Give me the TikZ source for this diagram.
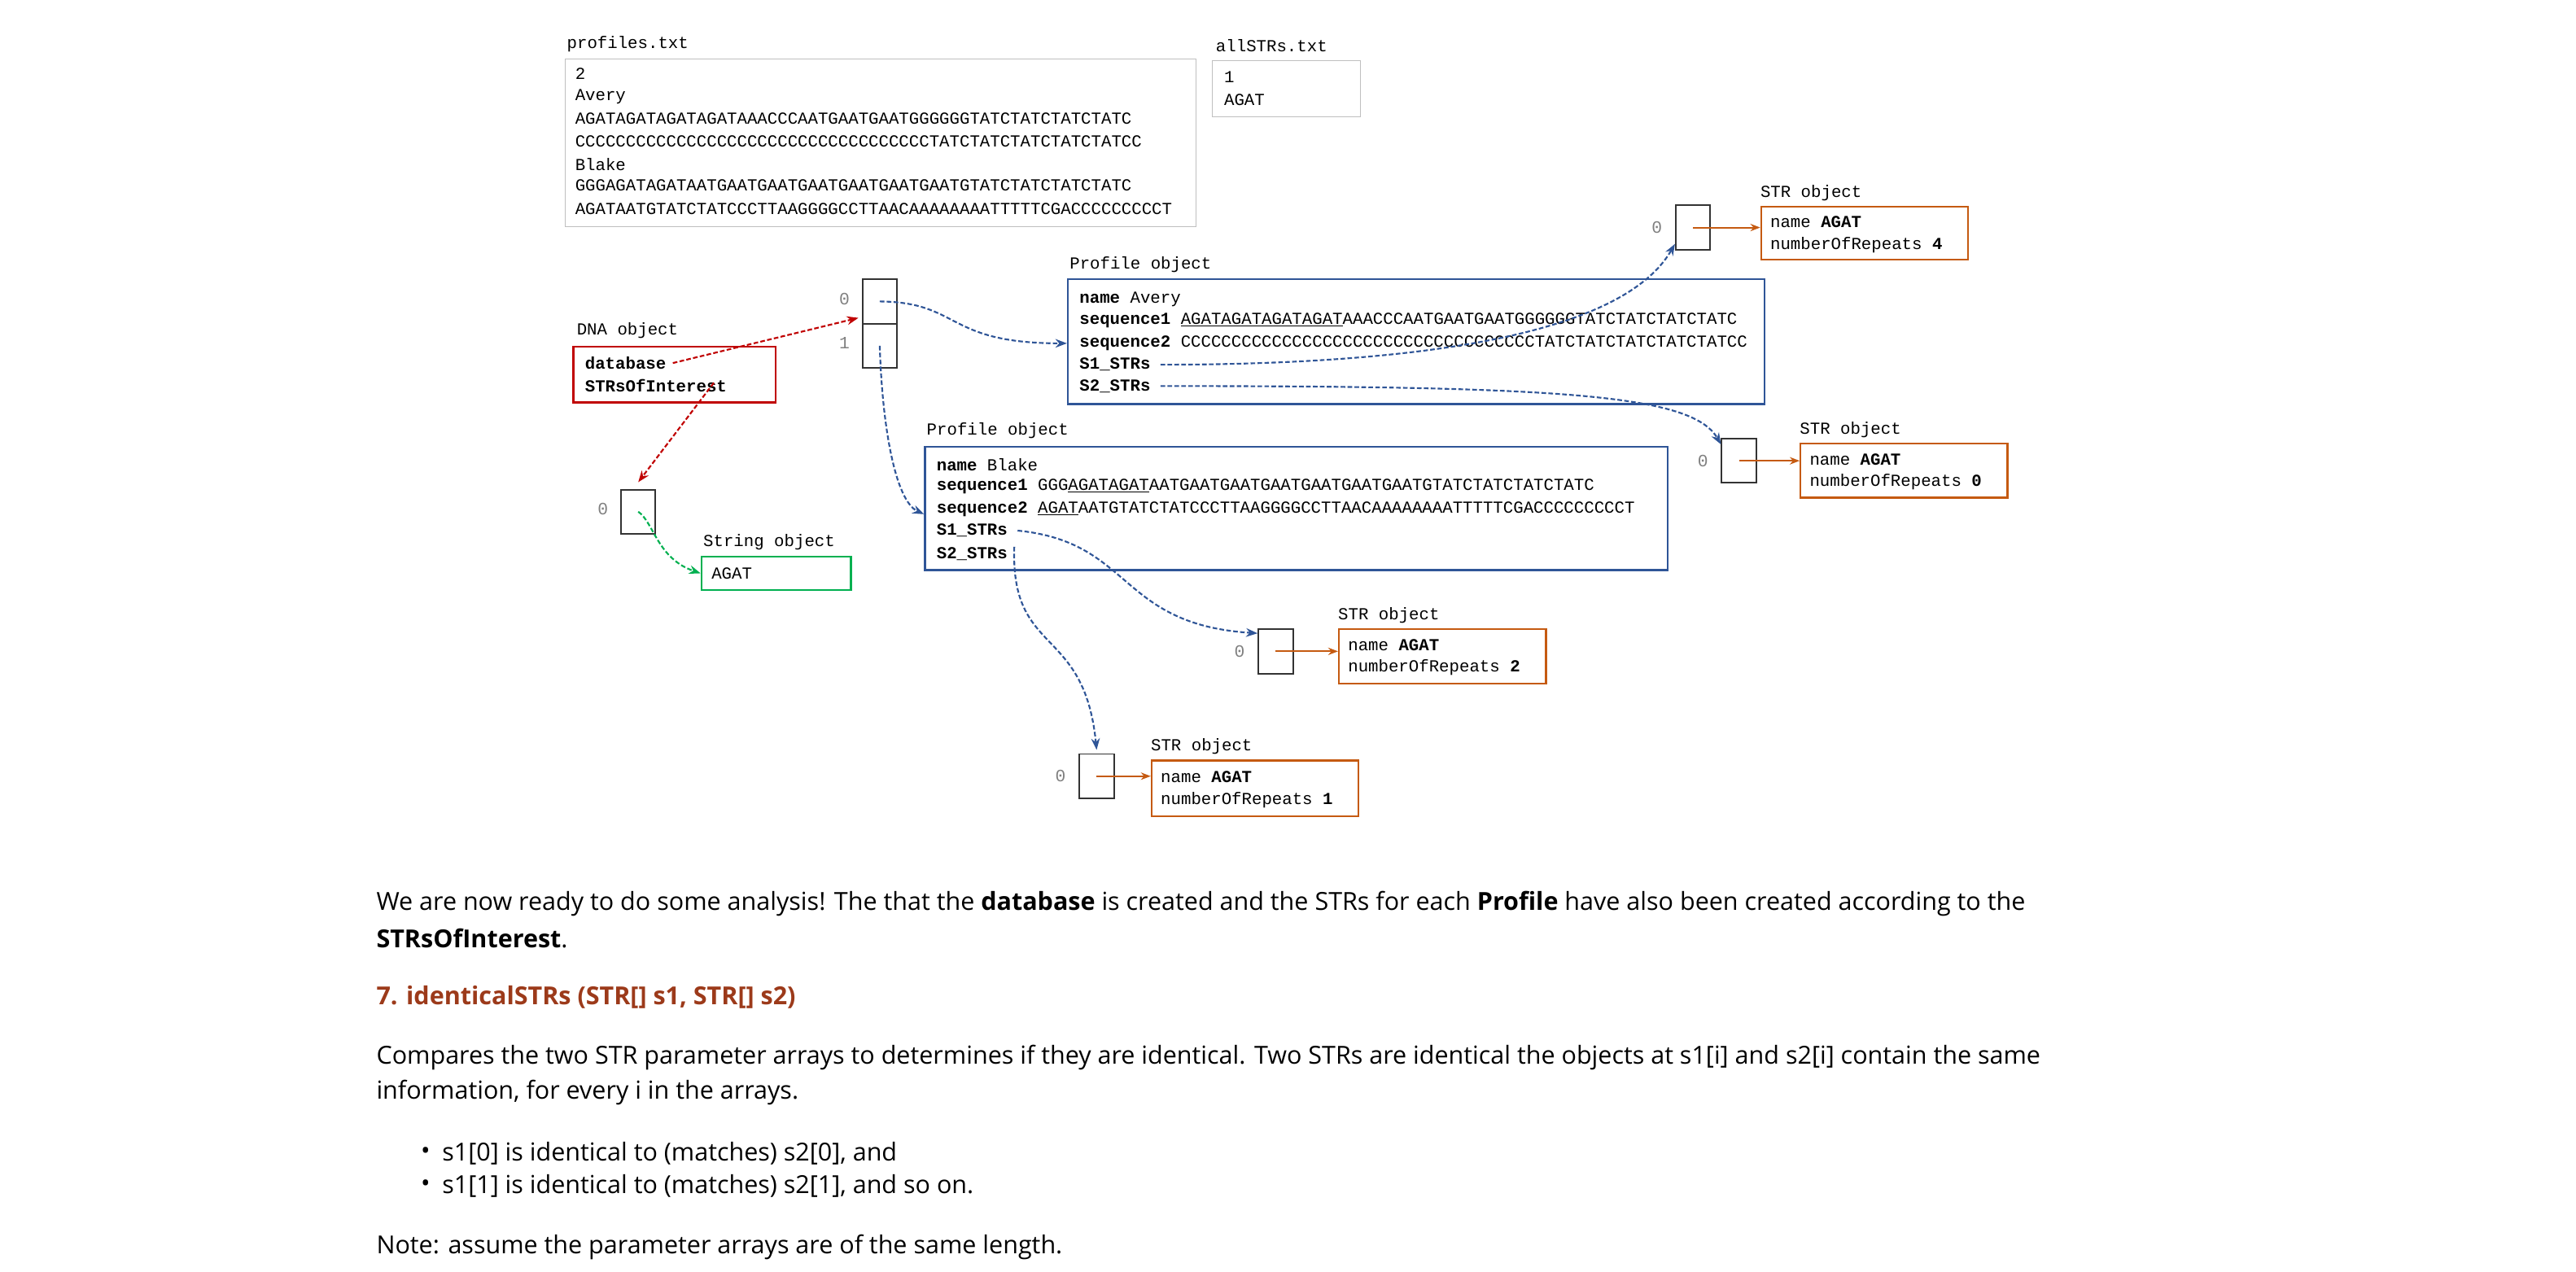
\documentclass[tikz,border=0pt]{standalone}
\usepackage{fontspec}
\setmainfont{Open Sans}
\newfontfamily\cmono{Liberation Mono}
\usetikzlibrary{arrows.meta}
\definecolor{cred}{HTML}{C00000}
\definecolor{cblue}{HTML}{2F5597}
\definecolor{corange}{HTML}{C55A11}
\definecolor{cgreen}{HTML}{00B050}
\definecolor{cgray}{HTML}{BFBFBF}
\definecolor{chead}{HTML}{9C3A1A}
\tikzset{
  x=0.5mm, y=-0.5mm,
  mono/.style={anchor=west, inner sep=0, font=\cmono\fontsize{14.6}{16}\selectfont},
  lbl/.style={mono},
  idx/.style={anchor=center, inner sep=0, text=gray, font=\cmono\fontsize{15}{16}\selectfont},
  box/.style={draw, line width=1.6pt, inner sep=0},
  cell/.style={draw=black!80, line width=1.4pt, minimum width=10.5mm, minimum height=13.5mm, inner sep=0},
  ptr/.style={dash pattern=on 4pt off 2pt, line width=1.5pt, -{Stealth[length=3.5mm]}},
  sans/.style={anchor=west, inner sep=0, font=\fontsize{21.5}{24}\selectfont},
}
\begin{document}
\begin{tikzpicture}
\useasboundingbox (0,0) rectangle (1568,774);
% text files
\node[lbl] at (345,27) {profiles.txt};
\node[box, draw=cgray, line width=1pt, minimum width=192mm, minimum height=51mm] (prof) at (536,87) {};
\node[mono] at (350,45) {2};
\node[mono] at (350,59) {Avery};
\node[mono] at (350,72) {AGATAGATAGATAGATAAACCCAATGAATGAATGGGGGGTATCTATCTATCTATC};
\node[mono] at (350,86) {CCCCCCCCCCCCCCCCCCCCCCCCCCCCCCCCCCCTATCTATCTATCTATCTATCC};
\node[mono] at (350,100) {Blake};
\node[mono] at (350,113) {GGGAGATAGATAATGAATGAATGAATGAATGAATGAATGTATCTATCTATCTATC};
\node[mono] at (350,127) {AGATAATGTATCTATCCCTTAAGGGGCCTTAACAAAAAAAATTTTTCGACCCCCCCCCT};
\node[lbl] at (740,28) {allSTRs.txt};
\node[box, draw=cgray, line width=1pt, minimum width=45mm, minimum height=17mm] (all) at (783,54) {};
\node[mono] at (745,47) {1};
\node[mono] at (745,61) {AGAT};
% DNA object
\node[lbl] at (351,201) {DNA object};
\node[box, draw=cred, minimum width=61.5mm, minimum height=17mm] (dna) at (410.5,228) {};
\node[mono] (db) at (356,221) {\bfseries database};
\node[mono] (soi) at (356,235) {\bfseries STRsOfInterest};
% profile array
\node[cell] (c0) at (535.5,183.5) {};
\node[cell] (c1) at (535.5,210.5) {};
\node[idx] at (514,182) {0};
\node[idx] at (514,209) {1};
% Avery
\node[lbl] at (651,161) {Profile object};
\node[box, draw=cblue, minimum width=212mm, minimum height=38mm] (av) at (862,208) {};
\node[mono] at (657,182) {\bfseries name\mdseries{} Avery};
\node[mono] at (657,195) {\bfseries sequence1\mdseries{} \underline{AGATAGATAGATAGAT}AAACCCAATGAATGAATGGGGGGTATCTATCTATCTATC};
\node[mono] at (657,209) {\bfseries sequence2\mdseries{} CCCCCCCCCCCCCCCCCCCCCCCCCCCCCCCCCCCTATCTATCTATCTATCTATCC};
\node[mono] (av1) at (657,222) {\bfseries S1\_STRs};
\node[mono] (av2) at (657,235) {\bfseries S2\_STRs};
% Blake
\node[lbl] at (564,262) {Profile object};
\node[box, draw=cblue, minimum width=226mm, minimum height=37.5mm] (bl) at (789,309.5) {};
\node[mono] at (570,283) {\bfseries name\mdseries{} Blake};
\node[mono] at (570,296) {\bfseries sequence1\mdseries{} GGG\underline{AGATAGAT}AATGAATGAATGAATGAATGAATGAATGTATCTATCTATCTATC};
\node[mono] at (570,310) {\bfseries sequence2\mdseries{} \underline{AGAT}AATGTATCTATCCCTTAAGGGGCCTTAACAAAAAAAATTTTTCGACCCCCCCCCT};
\node[mono] (bl1) at (570,323) {\bfseries S1\_STRs};
\node[mono] (bl2) at (570,337) {\bfseries S2\_STRs};
% String object
\node[cell] (sa) at (388.5,311.5) {};
\node[idx] at (367,310) {0};
\node[lbl] at (428,330) {String object};
\node[box, draw=cgreen, minimum width=45.5mm, minimum height=10mm] (sg) at (472.5,349) {};
\node[mono] at (433,349) {AGAT};
% STR objects
\foreach \n/\bx/\by/\h/\ax/\ay/\v in {s1/1135/142/16/1030.5/138.5/4, s2/1159/286.5/16.5/1058.5/280.5/0, s3/878/399.5/16.5/776.5/396.5/2, s4/764/480/17/667.5/472.5/1}{
  \node[box, draw=corange, minimum width=63mm, minimum height=\h mm] (\n b) at (\bx,\by) {};
  \node[lbl, anchor=south west] at ([yshift=1.5mm]\n b.north west) {STR object};
  \node[mono] at ([xshift=3mm,yshift=3.5mm]\n b.west) {name \bfseries AGAT};
  \node[mono] at ([xshift=3mm,yshift=-3.5mm]\n b.west) {numberOfRepeats \bfseries \v};
  \node[cell] (\n a) at (\ax,\ay) {};
  \node[idx] at ([xshift=-5.5mm]\n a.west) {0};
  \draw[corange, line width=1.4pt, -{Stealth[length=3mm]}] (\n a.center) -- (\n a.center -| \n b.west);
}
% pointers
\draw[ptr, cred] ([xshift=2mm]db.east) -- ([xshift=-1mm,yshift=-5mm]c0.west);
\draw[ptr, cred] ([xshift=-4mm,yshift=-1mm]soi.north east) -- ([yshift=2mm]sa.north);
\draw[ptr, cgreen] (sa.center) .. controls (398,318) and (400,340) .. (sg.west);
\draw[ptr, cblue] (c0.center) .. controls (585,184) and (575,209) .. (av.west |- 0,209);
\draw[ptr, cblue] (c1.center) .. controls (537,260) and (545,305) .. (bl.west |- 0,313);
\draw[ptr, cblue] ([xshift=3mm]av1.east) .. controls (880,222) and (990,200) .. ([yshift=2mm]s1a.south west);
\draw[ptr, cblue] ([xshift=3mm]av2.east) .. controls (950,235) and (1030,240) .. ([yshift=-2mm]s2a.north west);
\draw[ptr, cblue] ([xshift=3mm]bl1.east) .. controls (690,330) and (680,380) .. ([yshift=-1.5mm]s3a.north west);
\draw[ptr, cblue] ([xshift=2mm]bl2.north east) .. controls (615,400) and (660,380) .. ([yshift=1mm]s4a.north);
% prose
\node[sans] at (229,550) {We are now ready to do some analysis! The that the \textbf{database} is created and the STRs for each \textbf{Profile} have also been created according to the};
\node[sans] at (229,571) {\textbf{STRsOfInterest}.};
\node[sans, text=chead] at (229,607) {\bfseries 7. identicalSTRs (STR[] s1, STR[] s2)};
\node[sans] at (229,644) {Compares the two STR parameter arrays to determines if they are identical. Two STRs are identical the objects at s1[i] and s2[i] contain the same};
\node[sans] at (229,665) {information, for every i in the arrays.};
\node[sans] at (256,702) {\textbullet};
\node[sans] at (269,702) {s1[0] is identical to (matches) s2[0], and};
\node[sans] at (256,722) {\textbullet};
\node[sans] at (269,722) {s1[1] is identical to (matches) s2[1], and so on.};
\node[sans] at (229,759) {Note: assume the parameter arrays are of the same length.};
\end{tikzpicture}
\end{document}
